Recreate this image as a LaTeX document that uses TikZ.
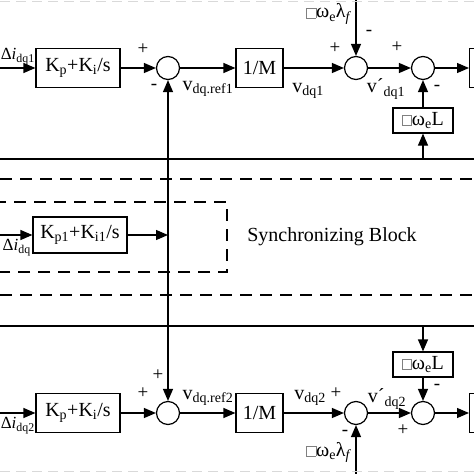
\documentclass[tikz,border=0pt]{standalone}
\usepackage{fontspec}
\setmainfont{Liberation Serif}
\usetikzlibrary{arrows.meta}
\newcommand{\gapbox}{{\color{gray}\setlength{\fboxsep}{0pt}\setlength{\fboxrule}{0.4pt}\fbox{\rule{0pt}{0.5em}\hspace{0.45em}}}}
\tikzstyle{block} = [rectangle, minimum height=39pt, text centered, draw=black, line width=1.2pt, inner sep=2pt]
\tikzstyle{sum} = [circle, minimum size=23pt, inner sep=0pt, draw=black, line width=1.2pt]
\tikzstyle{sign} = [font=\fontsize{19}{19}\selectfont, inner sep=0pt]
\tikzstyle{inlabel} = [font=\fontsize{17}{19}\selectfont, inner sep=0pt]
\tikzstyle{arrow} = [line width=1.2pt,->,>={Triangle[length=12pt,width=10pt]}]
\tikzstyle{bus} = [line width=1.2pt]
\tikzstyle{dashline} = [line width=1.2pt, dash pattern=on 12pt off 8pt]

\begin{document}
\begin{tikzpicture}[x=1pt, y=1pt, node distance=90pt, font=\fontsize{20}{23}\selectfont]
    \useasboundingbox (0,0) rectangle (474,-474);
    % upper loop
    \node (pi1) [block, minimum width=84pt] at (78,-68) {K\textsubscript{p}+K\textsubscript{i}/s};
    \node (sum1) [sum, right of=pi1] {};
    \node (gain1) [block, minimum width=47pt, right of=sum1, node distance=91.5pt] {1/M};
    \node (sum2) [sum, right of=gain1, node distance=96.5pt] {};
    \node (sum3) [sum, right of=sum2, node distance=67pt] {};
    \node (out1) [block, minimum width=40pt, anchor=west] at (469,-68) {};
    \node (wl1) [block, minimum width=60pt, minimum height=25pt, below of=sum3, node distance=52.5pt] {\gapbox ω\textsubscript{e}L};
    \coordinate (in1) at (0,-68);
    \coordinate (flux1) at (356,0);
    \coordinate (bus1) at (423,-159);

    % lower loop
    \node (pi2) [block, minimum width=84pt] at (78,-413) {K\textsubscript{p}+K\textsubscript{i}/s};
    \node (sum4) [sum, right of=pi2] {};
    \node (gain2) [block, minimum width=47pt, right of=sum4, node distance=91.5pt] {1/M};
    \node (sum5) [sum, right of=gain2, node distance=96.5pt] {};
    \node (sum6) [sum, right of=sum5, node distance=67pt] {};
    \node (out2) [block, minimum width=40pt, anchor=west] at (469,-413) {};
    \node (wl2) [block, minimum width=60pt, minimum height=25pt, above of=sum6, node distance=48.5pt] {\gapbox ω\textsubscript{e}L};
    \coordinate (in2) at (0,-413);
    \coordinate (flux2) at (356,-474);
    \coordinate (bus2) at (423,-326);

    % synchronizing block
    \node (pisync) [block, minimum width=94pt, minimum height=36pt] at (80,-235) {K\textsubscript{p1}+K\textsubscript{i1}/s};
    \node (synctext) at (332,-237) {Synchronizing Block};
    \coordinate (in3) at (0,-235);
    \coordinate (join) at (168,-235);

    \draw [arrow] (in1) -- (pi1);
    \draw [arrow] (pi1) -- (sum1);
    \draw [arrow] (sum1) -- (gain1);
    \draw [arrow] (gain1) -- (sum2);
    \draw [arrow] (sum2) -- (sum3);
    \draw [arrow] (sum3) -- (out1);
    \draw [arrow] (flux1) -- (sum2);
    \draw [arrow] (bus1) -- (wl1);
    \draw [arrow] (wl1) -- (sum3);

    \draw [arrow] (in2) -- (pi2);
    \draw [arrow] (pi2) -- (sum4);
    \draw [arrow] (sum4) -- (gain2);
    \draw [arrow] (gain2) -- (sum5);
    \draw [arrow] (sum5) -- (sum6);
    \draw [arrow] (sum6) -- (out2);
    \draw [arrow] (flux2) -- (sum5);
    \draw [arrow] (bus2) -- (wl2);
    \draw [arrow] (wl2) -- (sum6);

    \draw [arrow, <->] (sum1) -- (sum4);
    \draw [arrow] (in3) -- (pisync);
    \draw [arrow] (pisync) -- (join);

    \draw [bus] (0,-159) -- (474,-159);
    \draw [bus] (0,-326) -- (474,-326);
    \draw [dashline] (0,-179) -- (474,-179);
    \draw [dashline] (0,-295) -- (474,-295);
    \draw [dashline] (-6,-202) -| (227,-272) -- (-6,-272);
    \draw [gray!30, dash pattern=on 10pt off 6pt] (0,-1) -- (474,-1);
    \draw [gray!30, dash pattern=on 10pt off 6pt] (0,-471) -- (474,-471);

    % labels
    \node (lin1) [inlabel, anchor=south east] at (35,-65) {Δ\textit{i}\textsubscript{dq1}};
    \node (lin2) [inlabel, anchor=north east] at (35,-417) {Δ\textit{i}\textsubscript{dq2}};
    \node (lin3) [inlabel, anchor=north east] at (31,-239) {Δ\textit{i}\textsubscript{dq}};
    \node (lref1) at (208,-89) {v\textsubscript{dq.ref1}};
    \node (lref2) at (208,-398) {v\textsubscript{dq.ref2}};
    \node (lv1) at (308,-91) {v\textsubscript{dq1}};
    \node (lv2) at (310,-398) {v\textsubscript{dq2}};
    \node (lvp1) at (386,-89) {v´\textsubscript{dq1}};
    \node (lvp2) at (387,-399) {v´\textsubscript{dq2}};
    \node (lflux1) at (329,-14) {\gapbox ω\textsubscript{e}λ\textsubscript{\textit{f}}};
    \node (lflux2) at (329,-452) {\gapbox ω\textsubscript{e}λ\textsubscript{\textit{f}}};

    % signs
    \node (s1a) [sign] at (143,-49) {+};
    \node (s1b) [sign] at (154,-87) {-};
    \node (s2a) [sign] at (335,-48) {+};
    \node (s2b) [sign] at (369,-33) {-};
    \node (s3a) [sign] at (397,-47) {+};
    \node (s3b) [sign] at (437,-88) {-};
    \node (s4a) [sign] at (143,-393) {+};
    \node (s4b) [sign] at (158,-375) {+};
    \node (s5a) [sign] at (336,-393) {+};
    \node (s5b) [sign] at (345,-433) {-};
    \node (s6a) [sign] at (403,-430) {+};
    \node (s6b) [sign] at (437,-387) {-};
\end{tikzpicture}
\end{document}
